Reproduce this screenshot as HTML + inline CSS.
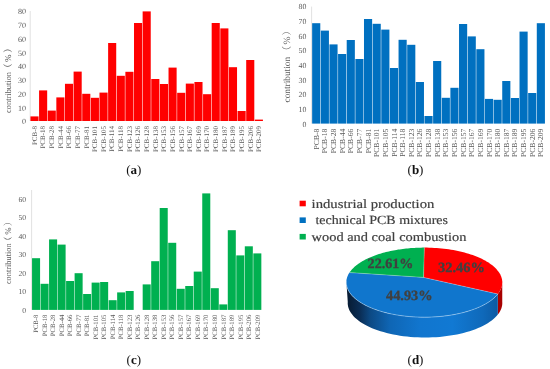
<!DOCTYPE html><html><head><meta charset="utf-8"><title>figure</title>
<style>html,body{margin:0;padding:0;background:#fff;}svg{display:block}text{font-family:"Liberation Serif", "Noto Serif CJK SC", serif;text-rendering:geometricPrecision;}</style></head><body>
<svg width="550" height="369" viewBox="0 0 550 369">
<rect width="550" height="369" fill="#fff"/>
<defs>
<linearGradient id="bside" x1="0" y1="0" x2="1" y2="0">
<stop offset="0" stop-color="#071a30"/><stop offset="0.09" stop-color="#0a2d55"/><stop offset="0.16" stop-color="#0c4a85"/><stop offset="0.29" stop-color="#0f66b5"/><stop offset="0.49" stop-color="#1176cf"/><stop offset="0.7" stop-color="#1179d3"/><stop offset="0.9" stop-color="#0f69ba"/><stop offset="1" stop-color="#0d5aa3"/>
</linearGradient>
</defs>
<line x1="30.20" y1="11.00" x2="30.20" y2="121.00" stroke="#d9d9d9" stroke-width="0.8"/>
<rect x="30.45" y="116.40" width="8.10" height="4.60" fill="#ff0000"/>
<rect x="39.08" y="90.40" width="8.10" height="30.60" fill="#ff0000"/>
<rect x="47.71" y="110.60" width="8.10" height="10.40" fill="#ff0000"/>
<rect x="56.34" y="97.40" width="8.10" height="23.60" fill="#ff0000"/>
<rect x="64.97" y="83.80" width="8.10" height="37.20" fill="#ff0000"/>
<rect x="73.60" y="71.60" width="8.10" height="49.40" fill="#ff0000"/>
<rect x="82.23" y="93.80" width="8.10" height="27.20" fill="#ff0000"/>
<rect x="90.86" y="97.80" width="8.10" height="23.20" fill="#ff0000"/>
<rect x="99.49" y="92.60" width="8.10" height="28.40" fill="#ff0000"/>
<rect x="108.12" y="43.00" width="8.10" height="78.00" fill="#ff0000"/>
<rect x="116.75" y="75.80" width="8.10" height="45.20" fill="#ff0000"/>
<rect x="125.38" y="71.80" width="8.10" height="49.20" fill="#ff0000"/>
<rect x="134.01" y="23.00" width="8.10" height="98.00" fill="#ff0000"/>
<rect x="142.64" y="11.40" width="8.10" height="109.60" fill="#ff0000"/>
<rect x="151.27" y="79.00" width="8.10" height="42.00" fill="#ff0000"/>
<rect x="159.90" y="84.00" width="8.10" height="37.00" fill="#ff0000"/>
<rect x="168.53" y="67.60" width="8.10" height="53.40" fill="#ff0000"/>
<rect x="177.16" y="92.80" width="8.10" height="28.20" fill="#ff0000"/>
<rect x="185.79" y="83.60" width="8.10" height="37.40" fill="#ff0000"/>
<rect x="194.42" y="82.00" width="8.10" height="39.00" fill="#ff0000"/>
<rect x="203.05" y="94.20" width="8.10" height="26.80" fill="#ff0000"/>
<rect x="211.68" y="23.00" width="8.10" height="98.00" fill="#ff0000"/>
<rect x="220.31" y="28.40" width="8.10" height="92.60" fill="#ff0000"/>
<rect x="228.94" y="67.20" width="8.10" height="53.80" fill="#ff0000"/>
<rect x="237.57" y="111.00" width="8.10" height="10.00" fill="#ff0000"/>
<rect x="246.20" y="60.00" width="8.10" height="61.00" fill="#ff0000"/>
<rect x="254.83" y="119.60" width="8.10" height="1.40" fill="#ff0000"/>
<text x="26.00" y="124.44" font-size="8.00" fill="#595959" text-anchor="end">0</text>
<text x="26.00" y="110.69" font-size="8.00" fill="#595959" text-anchor="end">10</text>
<text x="26.00" y="96.94" font-size="8.00" fill="#595959" text-anchor="end">20</text>
<text x="26.00" y="83.19" font-size="8.00" fill="#595959" text-anchor="end">30</text>
<text x="26.00" y="69.44" font-size="8.00" fill="#595959" text-anchor="end">40</text>
<text x="26.00" y="55.69" font-size="8.00" fill="#595959" text-anchor="end">50</text>
<text x="26.00" y="41.94" font-size="8.00" fill="#595959" text-anchor="end">60</text>
<text x="26.00" y="28.19" font-size="8.00" fill="#595959" text-anchor="end">70</text>
<text x="26.00" y="14.44" font-size="8.00" fill="#595959" text-anchor="end">80</text>
<text transform="translate(36.81,126.00) rotate(-90)" font-size="7.00" fill="#595959" text-anchor="end">PCB-8</text>
<text transform="translate(45.44,126.00) rotate(-90)" font-size="7.00" fill="#595959" text-anchor="end">PCB-18</text>
<text transform="translate(54.07,126.00) rotate(-90)" font-size="7.00" fill="#595959" text-anchor="end">PCB-28</text>
<text transform="translate(62.70,126.00) rotate(-90)" font-size="7.00" fill="#595959" text-anchor="end">PCB-44</text>
<text transform="translate(71.33,126.00) rotate(-90)" font-size="7.00" fill="#595959" text-anchor="end">PCB-66</text>
<text transform="translate(79.96,126.00) rotate(-90)" font-size="7.00" fill="#595959" text-anchor="end">PCB-77</text>
<text transform="translate(88.59,126.00) rotate(-90)" font-size="7.00" fill="#595959" text-anchor="end">PCB-81</text>
<text transform="translate(97.22,126.00) rotate(-90)" font-size="7.00" fill="#595959" text-anchor="end">PCB-101</text>
<text transform="translate(105.85,126.00) rotate(-90)" font-size="7.00" fill="#595959" text-anchor="end">PCB-105</text>
<text transform="translate(114.48,126.00) rotate(-90)" font-size="7.00" fill="#595959" text-anchor="end">PCB-114</text>
<text transform="translate(123.11,126.00) rotate(-90)" font-size="7.00" fill="#595959" text-anchor="end">PCB-118</text>
<text transform="translate(131.74,126.00) rotate(-90)" font-size="7.00" fill="#595959" text-anchor="end">PCB-123</text>
<text transform="translate(140.37,126.00) rotate(-90)" font-size="7.00" fill="#595959" text-anchor="end">PCB-126</text>
<text transform="translate(149.00,126.00) rotate(-90)" font-size="7.00" fill="#595959" text-anchor="end">PCB-128</text>
<text transform="translate(157.63,126.00) rotate(-90)" font-size="7.00" fill="#595959" text-anchor="end">PCB-138</text>
<text transform="translate(166.26,126.00) rotate(-90)" font-size="7.00" fill="#595959" text-anchor="end">PCB-153</text>
<text transform="translate(174.89,126.00) rotate(-90)" font-size="7.00" fill="#595959" text-anchor="end">PCB-156</text>
<text transform="translate(183.52,126.00) rotate(-90)" font-size="7.00" fill="#595959" text-anchor="end">PCB-157</text>
<text transform="translate(192.15,126.00) rotate(-90)" font-size="7.00" fill="#595959" text-anchor="end">PCB-167</text>
<text transform="translate(200.78,126.00) rotate(-90)" font-size="7.00" fill="#595959" text-anchor="end">PCB-169</text>
<text transform="translate(209.41,126.00) rotate(-90)" font-size="7.00" fill="#595959" text-anchor="end">PCB-170</text>
<text transform="translate(218.04,126.00) rotate(-90)" font-size="7.00" fill="#595959" text-anchor="end">PCB-180</text>
<text transform="translate(226.67,126.00) rotate(-90)" font-size="7.00" fill="#595959" text-anchor="end">PCB-187</text>
<text transform="translate(235.30,126.00) rotate(-90)" font-size="7.00" fill="#595959" text-anchor="end">PCB-189</text>
<text transform="translate(243.93,126.00) rotate(-90)" font-size="7.00" fill="#595959" text-anchor="end">PCB-195</text>
<text transform="translate(252.56,126.00) rotate(-90)" font-size="7.00" fill="#595959" text-anchor="end">PCB-206</text>
<text transform="translate(261.19,126.00) rotate(-90)" font-size="7.00" fill="#595959" text-anchor="end">PCB-209</text>
<text transform="translate(11.00,112.90) rotate(-90)" font-size="8.40" fill="#595959">contribution</text>
<text transform="translate(11.00,72.50) rotate(-90)" font-size="9.00" letter-spacing="1.60" fill="#595959">（%）</text>
<line x1="311.60" y1="6.60" x2="311.60" y2="123.60" stroke="#d9d9d9" stroke-width="0.8"/>
<rect x="312.15" y="23.20" width="8.14" height="100.40" fill="#0070c0"/>
<rect x="320.79" y="30.60" width="8.14" height="93.00" fill="#0070c0"/>
<rect x="329.43" y="44.40" width="8.14" height="79.20" fill="#0070c0"/>
<rect x="338.07" y="54.00" width="8.14" height="69.60" fill="#0070c0"/>
<rect x="346.71" y="40.00" width="8.14" height="83.60" fill="#0070c0"/>
<rect x="355.35" y="59.00" width="8.14" height="64.60" fill="#0070c0"/>
<rect x="363.99" y="19.00" width="8.14" height="104.60" fill="#0070c0"/>
<rect x="372.63" y="23.80" width="8.14" height="99.80" fill="#0070c0"/>
<rect x="381.27" y="29.60" width="8.14" height="94.00" fill="#0070c0"/>
<rect x="389.91" y="68.00" width="8.14" height="55.60" fill="#0070c0"/>
<rect x="398.55" y="39.80" width="8.14" height="83.80" fill="#0070c0"/>
<rect x="407.19" y="44.80" width="8.14" height="78.80" fill="#0070c0"/>
<rect x="415.83" y="82.00" width="8.14" height="41.60" fill="#0070c0"/>
<rect x="424.47" y="116.00" width="8.14" height="7.60" fill="#0070c0"/>
<rect x="433.11" y="61.00" width="8.14" height="62.60" fill="#0070c0"/>
<rect x="441.75" y="97.80" width="8.14" height="25.80" fill="#0070c0"/>
<rect x="450.39" y="87.80" width="8.14" height="35.80" fill="#0070c0"/>
<rect x="459.03" y="24.00" width="8.14" height="99.60" fill="#0070c0"/>
<rect x="467.67" y="36.40" width="8.14" height="87.20" fill="#0070c0"/>
<rect x="476.31" y="49.20" width="8.14" height="74.40" fill="#0070c0"/>
<rect x="484.95" y="98.90" width="8.14" height="24.70" fill="#0070c0"/>
<rect x="493.59" y="99.80" width="8.14" height="23.80" fill="#0070c0"/>
<rect x="502.23" y="81.00" width="8.14" height="42.60" fill="#0070c0"/>
<rect x="510.87" y="98.00" width="8.14" height="25.60" fill="#0070c0"/>
<rect x="519.51" y="31.60" width="8.14" height="92.00" fill="#0070c0"/>
<rect x="528.15" y="93.00" width="8.14" height="30.60" fill="#0070c0"/>
<rect x="536.79" y="23.20" width="8.14" height="100.40" fill="#0070c0"/>
<text x="306.40" y="126.67" font-size="7.80" fill="#595959" text-anchor="end">0</text>
<text x="306.40" y="112.01" font-size="7.80" fill="#595959" text-anchor="end">10</text>
<text x="306.40" y="97.35" font-size="7.80" fill="#595959" text-anchor="end">20</text>
<text x="306.40" y="82.69" font-size="7.80" fill="#595959" text-anchor="end">30</text>
<text x="306.40" y="68.03" font-size="7.80" fill="#595959" text-anchor="end">40</text>
<text x="306.40" y="53.37" font-size="7.80" fill="#595959" text-anchor="end">50</text>
<text x="306.40" y="38.71" font-size="7.80" fill="#595959" text-anchor="end">60</text>
<text x="306.40" y="24.05" font-size="7.80" fill="#595959" text-anchor="end">70</text>
<text x="306.40" y="9.39" font-size="7.80" fill="#595959" text-anchor="end">80</text>
<text transform="translate(318.74,128.60) rotate(-90)" font-size="7.65" fill="#595959" text-anchor="end">PCB-8</text>
<text transform="translate(327.38,128.60) rotate(-90)" font-size="7.65" fill="#595959" text-anchor="end">PCB-18</text>
<text transform="translate(336.02,128.60) rotate(-90)" font-size="7.65" fill="#595959" text-anchor="end">PCB-28</text>
<text transform="translate(344.66,128.60) rotate(-90)" font-size="7.65" fill="#595959" text-anchor="end">PCB-44</text>
<text transform="translate(353.30,128.60) rotate(-90)" font-size="7.65" fill="#595959" text-anchor="end">PCB-66</text>
<text transform="translate(361.94,128.60) rotate(-90)" font-size="7.65" fill="#595959" text-anchor="end">PCB-77</text>
<text transform="translate(370.58,128.60) rotate(-90)" font-size="7.65" fill="#595959" text-anchor="end">PCB-81</text>
<text transform="translate(379.22,128.60) rotate(-90)" font-size="7.65" fill="#595959" text-anchor="end">PCB-101</text>
<text transform="translate(387.86,128.60) rotate(-90)" font-size="7.65" fill="#595959" text-anchor="end">PCB-105</text>
<text transform="translate(396.50,128.60) rotate(-90)" font-size="7.65" fill="#595959" text-anchor="end">PCB-114</text>
<text transform="translate(405.14,128.60) rotate(-90)" font-size="7.65" fill="#595959" text-anchor="end">PCB-118</text>
<text transform="translate(413.78,128.60) rotate(-90)" font-size="7.65" fill="#595959" text-anchor="end">PCB-123</text>
<text transform="translate(422.42,128.60) rotate(-90)" font-size="7.65" fill="#595959" text-anchor="end">PCB-126</text>
<text transform="translate(431.06,128.60) rotate(-90)" font-size="7.65" fill="#595959" text-anchor="end">PCB-128</text>
<text transform="translate(439.70,128.60) rotate(-90)" font-size="7.65" fill="#595959" text-anchor="end">PCB-138</text>
<text transform="translate(448.34,128.60) rotate(-90)" font-size="7.65" fill="#595959" text-anchor="end">PCB-153</text>
<text transform="translate(456.98,128.60) rotate(-90)" font-size="7.65" fill="#595959" text-anchor="end">PCB-156</text>
<text transform="translate(465.62,128.60) rotate(-90)" font-size="7.65" fill="#595959" text-anchor="end">PCB-157</text>
<text transform="translate(474.26,128.60) rotate(-90)" font-size="7.65" fill="#595959" text-anchor="end">PCB-167</text>
<text transform="translate(482.90,128.60) rotate(-90)" font-size="7.65" fill="#595959" text-anchor="end">PCB-169</text>
<text transform="translate(491.54,128.60) rotate(-90)" font-size="7.65" fill="#595959" text-anchor="end">PCB-170</text>
<text transform="translate(500.18,128.60) rotate(-90)" font-size="7.65" fill="#595959" text-anchor="end">PCB-180</text>
<text transform="translate(508.82,128.60) rotate(-90)" font-size="7.65" fill="#595959" text-anchor="end">PCB-187</text>
<text transform="translate(517.46,128.60) rotate(-90)" font-size="7.65" fill="#595959" text-anchor="end">PCB-189</text>
<text transform="translate(526.10,128.60) rotate(-90)" font-size="7.65" fill="#595959" text-anchor="end">PCB-195</text>
<text transform="translate(534.74,128.60) rotate(-90)" font-size="7.65" fill="#595959" text-anchor="end">PCB-206</text>
<text transform="translate(543.38,128.60) rotate(-90)" font-size="7.65" fill="#595959" text-anchor="end">PCB-209</text>
<text transform="translate(290.10,102.40) rotate(-90)" font-size="9.30" fill="#595959">contribution</text>
<text transform="translate(290.10,55.40) rotate(-90)" font-size="9.60" letter-spacing="1.20" fill="#595959">（%）</text>
<line x1="31.60" y1="190.00" x2="31.60" y2="309.90" stroke="#d9d9d9" stroke-width="0.8"/>
<rect x="32.05" y="258.20" width="8.03" height="51.70" fill="#00b050"/>
<rect x="40.56" y="283.80" width="8.03" height="26.10" fill="#00b050"/>
<rect x="49.07" y="239.40" width="8.03" height="70.50" fill="#00b050"/>
<rect x="57.58" y="244.60" width="8.03" height="65.30" fill="#00b050"/>
<rect x="66.09" y="281.00" width="8.03" height="28.90" fill="#00b050"/>
<rect x="74.60" y="273.20" width="8.03" height="36.70" fill="#00b050"/>
<rect x="83.11" y="294.00" width="8.03" height="15.90" fill="#00b050"/>
<rect x="91.62" y="282.60" width="8.03" height="27.30" fill="#00b050"/>
<rect x="100.13" y="282.00" width="8.03" height="27.90" fill="#00b050"/>
<rect x="108.64" y="300.20" width="8.03" height="9.70" fill="#00b050"/>
<rect x="117.15" y="292.40" width="8.03" height="17.50" fill="#00b050"/>
<rect x="125.66" y="291.00" width="8.03" height="18.90" fill="#00b050"/>
<rect x="142.68" y="284.40" width="8.03" height="25.50" fill="#00b050"/>
<rect x="151.19" y="261.20" width="8.03" height="48.70" fill="#00b050"/>
<rect x="159.70" y="208.00" width="8.03" height="101.90" fill="#00b050"/>
<rect x="168.21" y="242.80" width="8.03" height="67.10" fill="#00b050"/>
<rect x="176.72" y="288.80" width="8.03" height="21.10" fill="#00b050"/>
<rect x="185.23" y="286.00" width="8.03" height="23.90" fill="#00b050"/>
<rect x="193.74" y="271.60" width="8.03" height="38.30" fill="#00b050"/>
<rect x="202.25" y="193.40" width="8.03" height="116.50" fill="#00b050"/>
<rect x="210.76" y="288.20" width="8.03" height="21.70" fill="#00b050"/>
<rect x="219.27" y="304.40" width="8.03" height="5.50" fill="#00b050"/>
<rect x="227.78" y="230.20" width="8.03" height="79.70" fill="#00b050"/>
<rect x="236.29" y="255.40" width="8.03" height="54.50" fill="#00b050"/>
<rect x="244.80" y="246.30" width="8.03" height="63.60" fill="#00b050"/>
<rect x="253.31" y="253.40" width="8.03" height="56.50" fill="#00b050"/>
<text x="26.00" y="312.71" font-size="7.60" fill="#595959" text-anchor="end">0</text>
<text x="26.00" y="294.25" font-size="7.60" fill="#595959" text-anchor="end">10</text>
<text x="26.00" y="275.79" font-size="7.60" fill="#595959" text-anchor="end">20</text>
<text x="26.00" y="257.33" font-size="7.60" fill="#595959" text-anchor="end">30</text>
<text x="26.00" y="238.87" font-size="7.60" fill="#595959" text-anchor="end">40</text>
<text x="26.00" y="220.41" font-size="7.60" fill="#595959" text-anchor="end">50</text>
<text x="26.00" y="201.95" font-size="7.60" fill="#595959" text-anchor="end">60</text>
<text transform="translate(38.28,314.60) rotate(-90)" font-size="6.70" fill="#595959" text-anchor="end">PCB-8</text>
<text transform="translate(46.79,314.60) rotate(-90)" font-size="6.70" fill="#595959" text-anchor="end">PCB-18</text>
<text transform="translate(55.30,314.60) rotate(-90)" font-size="6.70" fill="#595959" text-anchor="end">PCB-28</text>
<text transform="translate(63.81,314.60) rotate(-90)" font-size="6.70" fill="#595959" text-anchor="end">PCB-44</text>
<text transform="translate(72.32,314.60) rotate(-90)" font-size="6.70" fill="#595959" text-anchor="end">PCB-66</text>
<text transform="translate(80.83,314.60) rotate(-90)" font-size="6.70" fill="#595959" text-anchor="end">PCB-77</text>
<text transform="translate(89.34,314.60) rotate(-90)" font-size="6.70" fill="#595959" text-anchor="end">PCB-81</text>
<text transform="translate(97.85,314.60) rotate(-90)" font-size="6.70" fill="#595959" text-anchor="end">PCB-101</text>
<text transform="translate(106.36,314.60) rotate(-90)" font-size="6.70" fill="#595959" text-anchor="end">PCB-105</text>
<text transform="translate(114.87,314.60) rotate(-90)" font-size="6.70" fill="#595959" text-anchor="end">PCB-114</text>
<text transform="translate(123.38,314.60) rotate(-90)" font-size="6.70" fill="#595959" text-anchor="end">PCB-118</text>
<text transform="translate(131.89,314.60) rotate(-90)" font-size="6.70" fill="#595959" text-anchor="end">PCB-123</text>
<text transform="translate(140.40,314.60) rotate(-90)" font-size="6.70" fill="#595959" text-anchor="end">PCB-126</text>
<text transform="translate(148.91,314.60) rotate(-90)" font-size="6.70" fill="#595959" text-anchor="end">PCB-128</text>
<text transform="translate(157.42,314.60) rotate(-90)" font-size="6.70" fill="#595959" text-anchor="end">PCB-138</text>
<text transform="translate(165.93,314.60) rotate(-90)" font-size="6.70" fill="#595959" text-anchor="end">PCB-153</text>
<text transform="translate(174.44,314.60) rotate(-90)" font-size="6.70" fill="#595959" text-anchor="end">PCB-156</text>
<text transform="translate(182.95,314.60) rotate(-90)" font-size="6.70" fill="#595959" text-anchor="end">PCB-157</text>
<text transform="translate(191.46,314.60) rotate(-90)" font-size="6.70" fill="#595959" text-anchor="end">PCB-167</text>
<text transform="translate(199.97,314.60) rotate(-90)" font-size="6.70" fill="#595959" text-anchor="end">PCB-169</text>
<text transform="translate(208.48,314.60) rotate(-90)" font-size="6.70" fill="#595959" text-anchor="end">PCB-170</text>
<text transform="translate(216.99,314.60) rotate(-90)" font-size="6.70" fill="#595959" text-anchor="end">PCB-180</text>
<text transform="translate(225.50,314.60) rotate(-90)" font-size="6.70" fill="#595959" text-anchor="end">PCB-187</text>
<text transform="translate(234.01,314.60) rotate(-90)" font-size="6.70" fill="#595959" text-anchor="end">PCB-189</text>
<text transform="translate(242.52,314.60) rotate(-90)" font-size="6.70" fill="#595959" text-anchor="end">PCB-195</text>
<text transform="translate(251.03,314.60) rotate(-90)" font-size="6.70" fill="#595959" text-anchor="end">PCB-206</text>
<text transform="translate(259.54,314.60) rotate(-90)" font-size="6.70" fill="#595959" text-anchor="end">PCB-209</text>
<text transform="translate(11.00,284.10) rotate(-90)" font-size="8.35" fill="#595959">contribution</text>
<text transform="translate(11.00,245.20) rotate(-90)" font-size="8.80" letter-spacing="1.60" fill="#595959">（%）</text>
<text x="133.80" y="174.20" font-size="13" fill="#111" text-anchor="middle">(<tspan font-weight="bold">a</tspan>)</text>
<text x="415.50" y="174.00" font-size="13" fill="#111" text-anchor="middle">(<tspan font-weight="bold">b</tspan>)</text>
<text x="133.80" y="364.10" font-size="13" fill="#111" text-anchor="middle">(<tspan font-weight="bold">c</tspan>)</text>
<text x="415.50" y="364.10" font-size="13" fill="#111" text-anchor="middle">(<tspan font-weight="bold">d</tspan>)</text>
<rect x="299.6" y="200.70" width="6.2" height="5.6" fill="#ff0000"/>
<text x="311.60" y="207.60" font-size="12.5" fill="#404040" stroke="#404040" stroke-width="0.18" textLength="122.8" lengthAdjust="spacingAndGlyphs">industrial production</text>
<rect x="299.6" y="217.40" width="6.2" height="5.6" fill="#0070c0"/>
<text x="315.40" y="224.30" font-size="12.5" fill="#404040" stroke="#404040" stroke-width="0.18" textLength="132.6" lengthAdjust="spacingAndGlyphs">technical PCB mixtures</text>
<rect x="299.6" y="233.90" width="6.2" height="5.6" fill="#00b050"/>
<text x="311.60" y="240.80" font-size="12.5" fill="#404040" stroke="#404040" stroke-width="0.18" textLength="154.8" lengthAdjust="spacingAndGlyphs">wood and coal combustion</text>
<path d="M502.25,281.19 L502.27,281.40 L502.28,281.62 L502.29,281.84 L502.30,282.06 L502.30,282.27 L502.30,282.49 L502.30,282.71 L502.29,282.93 L502.28,283.14 L502.27,283.36 L502.26,283.58 L502.24,283.80 L502.22,284.01 L502.19,284.23 L502.16,284.45 L502.13,284.67 L502.10,284.88 L502.06,285.10 L502.03,285.32 L501.98,285.53 L501.94,285.75 L501.89,285.97 L501.84,286.18 L501.78,286.40 L501.73,286.62 L501.66,286.83 L501.60,287.05 L501.53,287.26 L501.46,287.48 L501.39,287.69 L501.32,287.91 L501.24,288.12 L501.16,288.34 L501.07,288.55 L500.98,288.77 L500.89,288.98 L500.80,289.19 L500.70,289.41 L500.60,289.62 L500.50,289.83 L500.39,290.05 L500.29,290.26 L500.17,290.47 L500.06,290.68 L499.94,290.89 L499.82,291.10 L499.70,291.31 L499.57,291.52 L499.44,291.73 L499.31,291.94 L499.17,292.15 L499.04,292.36 L498.90,292.57 L498.75,292.78 L498.60,292.99 L498.45,293.19 L498.30,293.40 L498.15,293.61 L497.99,293.81 L497.83,294.02 L497.87,314.52 L498.03,314.31 L498.18,314.11 L498.34,313.90 L498.49,313.70 L498.64,313.49 L498.78,313.29 L498.93,313.08 L499.07,312.88 L499.20,312.67 L499.34,312.46 L499.47,312.25 L499.60,312.05 L499.72,311.84 L499.84,311.63 L499.96,311.42 L500.08,311.21 L500.19,311.00 L500.30,310.79 L500.41,310.58 L500.52,310.37 L500.62,310.16 L500.72,309.95 L500.81,309.74 L500.91,309.52 L501.00,309.31 L501.08,309.10 L501.17,308.89 L501.25,308.67 L501.33,308.46 L501.40,308.25 L501.47,308.03 L501.54,307.82 L501.61,307.61 L501.67,307.39 L501.73,307.18 L501.79,306.97 L501.84,306.75 L501.89,306.54 L501.94,306.32 L501.99,306.11 L502.03,305.89 L502.07,305.68 L502.10,305.46 L502.14,305.25 L502.17,305.03 L502.19,304.82 L502.22,304.60 L502.24,304.38 L502.26,304.17 L502.27,303.95 L502.28,303.74 L502.29,303.52 L502.30,303.31 L502.30,303.09 L502.30,302.87 L502.30,302.66 L502.29,302.44 L502.28,302.23 L502.27,302.01 L502.25,301.80Z" fill="#a80000"/>
<path d="M497.83,294.02 L496.51,295.55 L495.04,297.06 L493.41,298.54 L491.62,299.98 L489.69,301.37 L487.60,302.73 L485.38,304.04 L483.02,305.31 L480.53,306.52 L477.91,307.68 L475.17,308.78 L472.32,309.82 L469.36,310.80 L466.31,311.72 L463.15,312.58 L459.91,313.36 L456.59,314.08 L453.20,314.72 L449.75,315.30 L446.24,315.80 L442.67,316.22 L439.07,316.57 L435.44,316.84 L431.78,317.04 L428.10,317.16 L424.41,317.20 L420.73,317.16 L417.05,317.05 L413.39,316.86 L409.75,316.59 L406.15,316.24 L402.58,315.82 L399.07,315.33 L395.61,314.76 L392.21,314.12 L388.89,313.41 L385.64,312.63 L382.49,311.78 L379.42,310.86 L376.46,309.88 L373.60,308.85 L370.86,307.75 L368.23,306.59 L365.73,305.38 L363.36,304.12 L361.13,302.81 L359.04,301.46 L357.09,300.06 L355.30,298.63 L353.66,297.15 L352.17,295.65 L350.85,294.11 L349.69,292.55 L348.70,290.97 L347.88,289.36 L347.23,287.74 L346.75,286.11 L346.44,284.47 L346.31,282.83 L346.35,281.19 L347.75,301.80 L347.71,303.43 L347.84,305.06 L348.14,306.68 L348.62,308.30 L349.26,309.90 L350.08,311.49 L351.06,313.06 L352.21,314.61 L353.52,316.13 L354.99,317.63 L356.62,319.09 L358.40,320.51 L360.32,321.90 L362.40,323.24 L364.61,324.54 L366.96,325.79 L369.43,326.98 L372.04,328.13 L374.75,329.22 L377.59,330.25 L380.52,331.22 L383.56,332.12 L386.69,332.97 L389.91,333.74 L393.20,334.45 L396.56,335.08 L399.99,335.64 L403.48,336.14 L407.01,336.55 L410.58,336.89 L414.19,337.16 L417.81,337.35 L421.46,337.46 L425.11,337.50 L428.76,337.46 L432.41,337.34 L436.04,337.15 L439.64,336.88 L443.21,336.53 L446.74,336.11 L450.22,335.61 L453.64,335.04 L457.00,334.40 L460.29,333.69 L463.50,332.92 L466.63,332.07 L469.66,331.16 L472.59,330.19 L475.42,329.15 L478.13,328.06 L480.72,326.91 L483.19,325.71 L485.53,324.46 L487.73,323.16 L489.80,321.81 L491.72,320.42 L493.49,319.00 L495.11,317.53 L496.57,316.04 L497.87,314.52Z" fill="url(#bside)"/>
<path d="M423.60,277.40 L424.30,247.60 L426.78,247.62 L429.27,247.67 L431.74,247.76 L434.21,247.88 L436.67,248.04 L439.12,248.23 L441.55,248.46 L443.96,248.72 L446.36,249.02 L448.73,249.35 L451.07,249.71 L453.39,250.11 L455.68,250.54 L457.94,251.00 L460.17,251.50 L462.35,252.02 L464.50,252.58 L466.61,253.16 L468.68,253.78 L470.70,254.43 L472.67,255.10 L474.59,255.80 L476.47,256.53 L478.29,257.28 L480.05,258.06 L481.76,258.87 L483.41,259.70 L485.00,260.55 L486.53,261.42 L488.00,262.32 L489.40,263.23 L490.73,264.17 L492.00,265.12 L493.20,266.09 L494.33,267.08 L495.39,268.08 L496.38,269.10 L497.29,270.13 L498.13,271.17 L498.89,272.23 L499.58,273.29 L500.19,274.36 L500.73,275.45 L501.18,276.54 L501.56,277.63 L501.87,278.73 L502.09,279.84 L502.23,280.94 L502.30,282.05 L502.28,283.16 L502.19,284.27 L502.01,285.37 L501.76,286.48 L501.43,287.57 L501.02,288.67 L500.54,289.75 L499.97,290.83 L499.33,291.90 L498.62,292.97 L497.83,294.02Z" fill="#ff0000"/>
<path d="M423.60,277.40 L497.83,294.02 L496.39,295.69 L494.76,297.33 L492.95,298.92 L490.95,300.48 L488.78,301.98 L486.44,303.44 L483.93,304.83 L481.27,306.17 L478.45,307.45 L475.49,308.66 L472.39,309.80 L469.17,310.86 L465.83,311.86 L462.38,312.77 L458.83,313.60 L455.19,314.36 L451.46,315.02 L447.66,315.60 L443.81,316.09 L439.90,316.50 L435.94,316.81 L431.96,317.03 L427.96,317.16 L423.95,317.20 L419.93,317.15 L415.93,317.00 L411.96,316.76 L408.01,316.43 L404.11,316.01 L400.26,315.51 L396.48,314.91 L392.77,314.23 L389.14,313.46 L385.60,312.62 L382.17,311.69 L378.85,310.68 L375.65,309.60 L372.58,308.45 L369.64,307.23 L366.85,305.94 L364.22,304.59 L361.74,303.18 L359.42,301.72 L357.28,300.21 L355.32,298.64 L353.54,297.04 L351.94,295.40 L350.54,293.72 L349.33,292.01 L348.32,290.28 L347.52,288.52 L346.91,286.75 L346.51,284.97 L346.32,283.18 L346.33,281.39 L346.55,279.61 L346.98,277.82 L347.61,276.06 L348.44,274.30 L349.47,272.57Z" fill="#1076cd"/>
<path d="M423.60,277.40 L349.47,272.57 L349.96,271.86 L350.48,271.15 L351.04,270.45 L351.63,269.76 L352.25,269.06 L352.91,268.38 L353.60,267.70 L354.32,267.03 L355.08,266.36 L355.86,265.71 L356.68,265.06 L357.53,264.41 L358.40,263.78 L359.31,263.16 L360.25,262.54 L361.22,261.93 L362.21,261.33 L363.24,260.75 L364.29,260.17 L365.37,259.60 L366.48,259.04 L367.61,258.50 L368.77,257.96 L369.96,257.43 L371.17,256.92 L372.41,256.42 L373.66,255.93 L374.95,255.45 L376.25,254.99 L377.58,254.53 L378.92,254.09 L380.29,253.67 L381.68,253.25 L383.09,252.85 L384.52,252.47 L385.96,252.09 L387.43,251.73 L388.90,251.39 L390.40,251.06 L391.91,250.74 L393.44,250.44 L394.98,250.15 L396.53,249.88 L398.10,249.62 L399.68,249.38 L401.27,249.15 L402.87,248.94 L404.48,248.74 L406.10,248.56 L407.73,248.39 L409.36,248.24 L411.01,248.11 L412.65,247.99 L414.31,247.89 L415.97,247.80 L417.63,247.73 L419.29,247.67 L420.96,247.63 L422.63,247.61 L424.30,247.60Z" fill="#00b050"/>
<path d="M497.83,294.02 L496.51,295.55 L495.04,297.06 L493.41,298.54 L491.62,299.98 L489.69,301.37 L487.60,302.73 L485.38,304.04 L483.02,305.31 L480.53,306.52 L477.91,307.68 L475.17,308.78 L472.32,309.82 L469.36,310.80 L466.31,311.72 L463.15,312.58 L459.91,313.36 L456.59,314.08 L453.20,314.72 L449.75,315.30 L446.24,315.80 L442.67,316.22 L439.07,316.57 L435.44,316.84 L431.78,317.04 L428.10,317.16 L424.41,317.20 L420.73,317.16 L417.05,317.05 L413.39,316.86 L409.75,316.59 L406.15,316.24 L402.58,315.82 L399.07,315.33 L395.61,314.76 L392.21,314.12 L388.89,313.41 L385.64,312.63 L382.49,311.78 L379.42,310.86 L376.46,309.88 L373.60,308.85 L370.86,307.75 L368.23,306.59 L365.73,305.38 L363.36,304.12 L361.13,302.81 L359.04,301.46 L357.09,300.06 L355.30,298.63 L353.66,297.15 L352.17,295.65 L350.85,294.11 L349.69,292.55 L348.70,290.97 L347.88,289.36 L347.23,287.74 L346.75,286.11 L346.44,284.47 L346.31,282.83 L346.35,281.19" fill="none" stroke="#cfe6fa" stroke-width="0.5" opacity="0.9"/>
<path d="M497.83,294.02 L423.60,277.40 L349.47,272.57 M423.60,277.40 L424.30,247.60" fill="none" stroke="#ffffff" stroke-opacity="0.55" stroke-width="0.5"/>
<text x="367.60" y="268.00" font-size="14.2" font-weight="bold" fill="#404040" stroke="#404040" stroke-width="0.3" textLength="45.8" lengthAdjust="spacingAndGlyphs">22.61%</text>
<text x="438.00" y="272.40" font-size="14.2" font-weight="bold" fill="#404040" stroke="#404040" stroke-width="0.3" textLength="47.0" lengthAdjust="spacingAndGlyphs">32.46%</text>
<text x="386.00" y="300.00" font-size="14.2" font-weight="bold" fill="#404040" stroke="#404040" stroke-width="0.3" textLength="46.6" lengthAdjust="spacingAndGlyphs">44.93%</text>
</svg></body></html>
